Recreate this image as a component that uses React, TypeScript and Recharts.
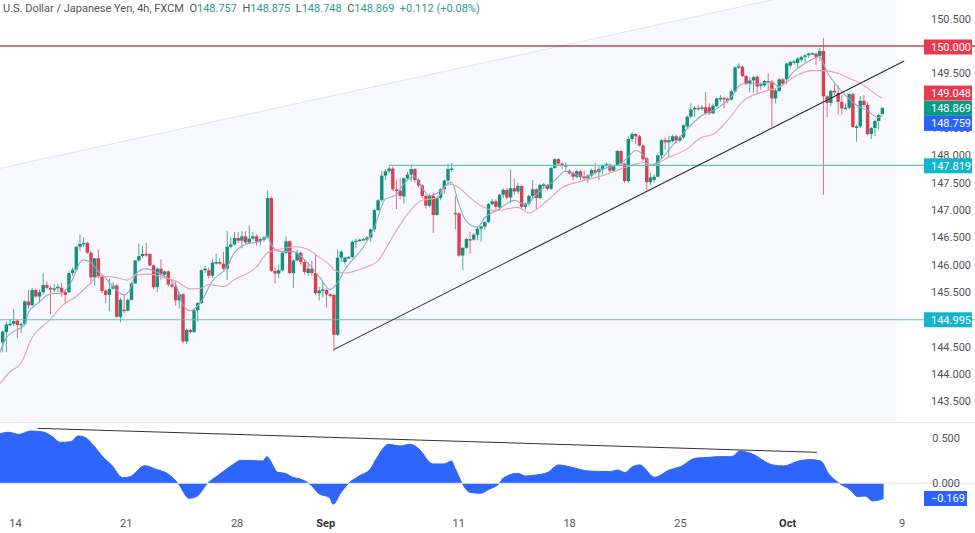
import { Area, Bar, ComposedChart, Line, ReferenceDot, ReferenceLine, XAxis, YAxis } from "recharts";

// [open, high, low, close] per 4h bar
const candles: number[][] = [
  [144.58,144.8,144.4,144.78],[144.77,144.96,144.4,144.91],[144.91,145.0,144.88,144.92],[144.92,145.19,144.88,144.97],
  [144.98,145.0,144.66,144.9],[144.9,144.95,144.75,144.92],[144.92,145.35,144.9,145.33],[145.33,145.55,145.2,145.26],
  [145.26,145.58,145.25,145.54],[145.54,145.56,145.4,145.42],[145.42,145.55,145.3,145.5],[145.5,145.85,145.45,145.63],
  [145.63,145.7,145.55,145.58],[145.58,145.62,145.1,145.55],[145.56,145.65,145.5,145.57],[145.57,145.65,145.5,145.6],
  [145.58,145.67,145.42,145.5],[145.5,145.55,145.3,145.45],[145.5,145.88,145.48,145.85],[145.85,145.95,145.8,145.91],
  [145.91,146.33,145.9,146.33],[146.33,146.55,146.25,146.38],[146.38,146.5,146.33,146.4],[146.4,146.42,146.2,146.22],
  [146.22,146.25,145.65,145.77],[145.77,146.12,145.62,146.12],[146.12,146.28,145.75,145.79],[145.8,145.8,145.48,145.52],
  [145.53,145.55,145.3,145.45],[145.45,145.75,145.15,145.56],[145.56,145.68,145.55,145.62],[145.62,145.65,145.03,145.05],
  [145.05,145.4,144.95,145.36],[145.18,145.45,145.12,145.16],[145.16,145.38,145.15,145.36],[145.36,145.68,145.35,145.66],
  [145.66,146.08,145.65,146.08],[146.08,146.39,146.05,146.16],[146.16,146.35,146.12,146.2],[146.2,146.4,146.15,146.19],
  [146.2,146.2,145.97,145.99],[145.99,146.0,145.55,145.59],[145.59,145.95,145.5,145.93],[145.93,146.1,145.72,145.82],
  [145.82,145.9,145.75,145.88],[145.88,145.9,145.6,145.64],[145.64,145.72,145.57,145.6],[145.6,145.7,145.25,145.35],
  [145.35,145.5,145.2,145.46],[145.46,145.48,144.57,144.6],[144.6,144.83,144.55,144.81],[144.81,144.83,144.74,144.77],
  [144.77,145.18,144.76,145.17],[145.17,145.32,144.96,145.3],[145.3,145.92,145.28,145.9],[145.9,145.98,145.85,145.93],
  [145.9,145.95,145.75,145.8],[145.8,146.1,145.76,146.04],[146.04,146.2,146.0,146.05],[146.05,146.12,146.0,146.02],
  [146.02,146.24,145.9,145.93],[145.93,146.62,145.72,146.33],[146.33,146.5,146.3,146.37],[146.37,146.6,146.35,146.49],
  [146.49,146.6,146.4,146.44],[146.44,146.62,146.3,146.52],[146.52,146.62,146.38,146.41],[146.41,146.72,146.38,146.48],
  [146.48,146.6,146.45,146.52],[146.52,146.56,146.35,146.43],[146.43,146.5,146.35,146.47],[146.46,146.53,146.42,146.5],
  [146.5,147.36,146.48,147.22],[147.22,147.25,145.87,145.89],[145.89,145.95,145.66,145.84],[145.84,146.0,145.75,145.9],
  [145.9,146.24,145.88,146.22],[146.22,146.52,146.2,146.43],[146.43,146.45,145.83,145.85],[145.85,146.1,145.58,146.08],
  [146.08,146.28,146.06,146.22],[146.22,146.24,146.0,146.05],[146.05,146.1,145.82,145.87],[145.85,146.05,145.8,145.93],
  [145.93,146.07,145.8,145.85],[145.85,146.2,145.45,145.48],[145.48,145.6,145.35,145.53],[145.53,145.7,145.4,145.55],
  [145.54,145.57,145.22,145.46],[145.46,145.48,145.4,145.44],[145.45,145.47,144.42,144.72],[144.72,146.28,144.7,146.13],
  [146.13,146.26,146.05,146.24],[146.05,146.15,146.0,146.13],[146.13,146.16,146.12,146.14],[146.14,146.44,146.12,146.42],
  [146.42,146.48,146.3,146.44],[146.44,146.48,146.42,146.46],[146.46,146.49,146.44,146.47],[146.46,146.52,146.44,146.5],
  [146.5,146.66,146.42,146.65],[146.65,147.02,146.6,147.0],[147.0,147.2,146.98,147.18],[147.18,147.72,147.15,147.63],
  [147.63,147.75,147.55,147.71],[147.71,147.8,147.68,147.76],[147.76,147.8,147.35,147.38],[147.38,147.55,147.02,147.35],
  [147.36,147.58,147.2,147.26],[147.25,147.6,147.12,147.58],[147.58,147.7,147.55,147.65],[147.65,147.83,147.52,147.75],
  [147.75,147.77,147.5,147.55],[147.55,147.58,147.42,147.45],[147.45,147.47,147.22,147.26],[147.26,147.28,147.03,147.08],
  [147.08,147.3,147.05,147.26],[147.26,147.32,146.58,146.91],[146.91,147.25,146.9,147.22],[147.22,147.4,147.18,147.38],
  [147.38,147.56,147.3,147.54],[147.54,147.85,147.45,147.75],[147.75,147.86,147.7,147.76],[146.95,147.26,146.65,146.94],
  [146.94,146.96,146.15,146.17],[146.17,146.33,145.9,146.31],[146.31,146.5,146.29,146.47],[146.47,146.6,146.2,146.46],
  [146.46,146.58,146.44,146.55],[146.55,146.7,146.45,146.66],[146.66,146.72,146.42,146.7],[146.7,146.8,146.65,146.78],
  [146.78,147.13,146.77,147.11],[147.11,147.2,147.08,147.16],[147.16,147.2,146.98,147.06],[147.05,147.3,147.0,147.28],
  [147.28,147.4,147.22,147.37],[147.37,147.4,147.2,147.23],[147.23,147.74,147.13,147.4],[147.4,147.58,147.28,147.34],
  [147.34,147.5,147.3,147.44],[147.44,147.46,147.03,147.06],[147.06,147.14,147.0,147.12],[147.12,147.28,147.08,147.26],
  [147.26,147.55,147.22,147.38],[147.38,147.4,147.01,147.22],[147.22,147.48,147.2,147.46],[147.46,147.5,147.4,147.47],
  [147.46,147.48,147.36,147.39],[147.39,147.79,147.37,147.77],[147.77,147.95,147.75,147.93],[147.93,147.95,147.8,147.85],
  [147.85,147.87,147.75,147.81],[147.8,147.87,147.7,147.82],[147.72,147.75,147.65,147.67],[147.67,147.7,147.55,147.61],
  [147.61,147.74,147.58,147.71],[147.71,147.74,147.55,147.6],[147.61,147.72,147.55,147.6],[147.58,147.66,147.5,147.63],
  [147.63,147.75,147.6,147.73],[147.73,147.87,147.65,147.68],[147.69,147.8,147.55,147.75],[147.74,147.83,147.65,147.81],
  [147.81,147.88,147.78,147.84],[147.83,147.85,147.68,147.72],[147.72,147.83,147.7,147.81],[147.81,148.1,147.8,148.08],
  [148.08,148.1,147.83,147.85],[147.85,147.87,147.5,147.53],[147.53,148.36,147.5,148.3],[148.3,148.43,148.25,148.39],
  [148.39,148.41,148.2,148.35],[148.35,148.38,148.16,148.18],[148.18,148.2,147.9,147.93],[147.95,147.97,147.36,147.51],
  [147.51,147.68,147.46,147.6],[147.55,147.65,147.5,147.61],[147.61,148.02,147.6,148.0],[148.0,148.3,147.95,148.28],
  [148.28,148.33,148.1,148.24],[148.24,148.36,147.97,148.28],[148.26,148.38,148.24,148.35],[148.35,148.38,148.22,148.27],
  [148.27,148.36,148.24,148.33],[148.33,148.57,148.3,148.55],[148.53,148.73,148.5,148.71],[148.71,148.95,148.68,148.84],
  [148.84,148.9,148.7,148.87],[148.87,148.92,148.82,148.86],[148.86,148.92,148.82,148.88],[148.88,149.16,148.74,148.77],
  [148.88,148.95,148.74,148.77],[148.77,148.95,148.75,148.91],[148.9,149.06,148.88,149.04],[149.04,149.1,148.98,149.05],
  [149.05,149.08,148.86,149.04],[149.04,149.06,148.95,149.0],[149.02,149.2,149.0,149.17],[149.17,149.62,149.15,149.61],
  [149.61,149.68,149.58,149.63],[149.62,149.64,149.43,149.45],[149.45,149.47,149.29,149.31],[149.31,149.43,149.16,149.37],
  [149.37,149.45,149.15,149.43],[149.44,149.46,149.14,149.26],[149.27,149.33,149.2,149.3],[149.28,149.38,149.25,149.36],
  [149.36,149.5,149.2,149.35],[149.35,149.38,148.52,149.04],[149.04,149.21,148.95,149.19],[149.18,149.41,149.16,149.39],
  [149.39,149.41,149.29,149.31],[149.39,149.7,149.3,149.68],[149.64,149.73,149.6,149.71],[149.71,149.75,149.66,149.72],
  [149.69,149.8,149.6,149.77],[149.75,149.82,149.7,149.8],[149.8,149.85,149.7,149.83],[149.83,149.88,149.78,149.86],
  [149.86,149.88,149.84,149.87],[149.86,149.88,149.65,149.8],[149.82,149.97,149.72,149.91],[149.91,150.15,147.28,149.08],
  [149.08,149.1,148.7,148.96],[148.96,149.2,148.9,149.18],[149.18,149.3,149.1,149.17],[149.14,149.28,148.75,148.98],
  [148.98,149.1,148.75,148.86],[148.86,148.95,148.85,148.87],[148.87,149.14,148.84,149.12],[149.12,149.14,148.5,148.52],
  [148.52,148.56,148.25,148.53],[148.53,149.08,148.5,149.0],[149.0,149.1,148.88,148.92],[148.92,148.98,148.37,148.39],
  [148.39,148.52,148.3,148.5],[148.5,148.65,148.35,148.63],[148.63,148.77,148.48,148.74],[148.757,148.875,148.748,148.869],
];

// moving averages, read at [bar, value]
const fastMa: number[][] = [
  [-1,144.35],[1,144.66],[3,144.78],[6,144.9],[7,145.12],[10,145.32],[13,145.47],[16,145.48],[19,145.73],[21,146.04],[22,146.09],
  [24,146.04],[26,145.88],[28,145.76],[30,145.6],[33,145.45],[35,145.6],[36,145.82],[39,145.93],[41,145.89],[44,145.79],[47,145.64],
  [49,145.27],[51,145.16],[54,145.33],[57,145.7],[61,145.96],[63,146.22],[66,146.37],[70,146.43],[72,146.53],[73,146.37],[75,146.25],
  [79,146.24],[82,146.1],[86,145.79],[89,145.55],[91,145.67],[93,145.91],[98,146.32],[101,146.68],[104,147.2],[107,147.28],[109,147.48],
  [112,147.61],[114,147.41],[116,147.26],[119,147.35],[122,147.51],[124,147.11],[126,146.8],[129,146.69],[131,146.86],[135,147.02],
  [139,147.18],[142,147.1],[146,147.35],[150,147.54],[153,147.71],[158,147.61],[163,147.75],[168,147.85],[170,147.97],[172,148.09],
  [175,147.93],[176,147.82],[178,147.87],[182,148.18],[187,148.55],[190,148.73],[194,148.85],[198,149.07],[201,149.31],[205,149.31],
  [209,149.34],[211,149.25],[215,149.53],[218,149.68],[222,149.8],[224,149.53],[227,149.25],[229,149.1],[232,148.92],[235,148.82],
  [238,148.69],[239,148.73],
];
const slowMa: number[][] = [
  [-1,143.8],[2,144.04],[5,144.2],[8,144.66],[13,145.0],[16,145.24],[20,145.42],[24,145.67],[26,145.79],[30,145.78],[34,145.72],
  [36,145.81],[40,145.83],[44,145.76],[47,145.71],[51,145.56],[54,145.57],[56,145.64],[60,145.6],[63,145.73],[69,145.96],[72,146.22],
  [75,146.28],[80,146.33],[83,146.28],[86,146.14],[89,145.99],[90,145.91],[93,145.85],[98,145.94],[102,146.07],[105,146.4],[109,146.83],
  [112,147.08],[114,147.18],[118,147.22],[121,147.48],[124,147.41],[127,147.23],[130,147.08],[134,146.99],[140,147.05],[143,146.95],
  [148,147.17],[152,147.41],[158,147.54],[163,147.63],[168,147.75],[172,147.84],[174,147.87],[177,147.82],[180,147.93],[186,148.12],
  [190,148.33],[193,148.38],[197,148.64],[201,148.98],[207,149.17],[211,149.25],[216,149.47],[220,149.55],[223,149.55],[227,149.5],
  [230,149.41],[234,149.28],[237,149.13],[239,149.048],
];
// lower panel oscillator
const oscillator: number[][] = [
  [-1,0.54],[2,0.567],[5,0.544],[8,0.581],[11,0.574],[14,0.519],[16,0.456],[19,0.463],[21,0.526],[23,0.507],[25,0.426],[28,0.278],
  [30,0.204],[33,0.063],[35,0.074],[39,0.196],[42,0.156],[45,0.111],[48,0],[51,-0.167],[53,-0.148],[56,0],[59,0.093],[63,0.211],
  [65,0.256],[71,0.248],[72,0.296],[75,0.122],[77,0.111],[79,0.067],[81,0.048],[84,-0.019],[86,-0.111],[89,-0.159],[90,-0.233],
  [92,-0.111],[94,-0.007],[97,0.081],[100,0.156],[102,0.296],[105,0.433],[108,0.415],[111,0.433],[113,0.389],[117,0.215],[120,0.215],
  [122,0.248],[123,0.167],[125,-0.007],[127,-0.1],[130,-0.111],[132,-0.07],[135,0],[136,0.056],[140,0.111],[142,0.081],[145,0.093],
  [148,0.119],[151,0.204],[155,0.174],[159,0.137],[165,0.13],[167,0.148],[169,0.119],[171,0.185],[173,0.204],[177,0.067],[181,0.148],
  [184,0.185],[188,0.278],[192,0.289],[194,0.296],[198,0.296],[200,0.359],[203,0.333],[209,0.204],[212,0.193],[216,0.248],[219,0.263],
  [222,0.248],[224,0.111],[227,0],[230,-0.074],[232,-0.148],[234,-0.141],[236,-0.196],[239,-0.169],
];
const channelTop: number[][] = [[-1,147.76],[243,151.34]];

// 145, 149 and 150 sit fully behind the price tags
const priceTicks = [143.5,144,144.5,145.5,146,146.5,147,147.5,148,148.5,149.5,150.5];
const oscTicks = [0,0.5];
const dateTicks: [number, string][] = [[4,"14"],[34,"21"],[64,"28"],[88,"Sep"],[124,"11"],[154,"18"],[184,"25"],[213,"Oct"],[244,"9"]];
const priceDomain = [143.126, 150.841];

const lastRow = 264;
const FONT = "Roboto, sans-serif";
const UP = "#11917c";
const DOWN = "#da3f4e";

const rows: any[] = [];
for (let i = -1; i <= lastRow; i++) {
  const c = candles[i];
  rows.push(c ? { i, o: c[0], h: c[1], l: c[2], c: c[3], range: [c[2], c[1]] } : { i });
}
const fill = (key: string, pairs: number[][]) => {
  pairs.forEach(([r, v]) => { rows[r + 1][key] = v; });
};
fill("fast", fastMa);
fill("slow", slowMa);
fill("osc", oscillator);
fill("channel", channelTop);

function Candle(props: any) {
  const { x, y, width, height, payload } = props;
  if (payload.h == null) return null;
  const top = Math.min(y, y + height);
  const span = Math.abs(height);
  const unit = span / (payload.h - payload.l);
  const yOpen = top + (payload.h - payload.o) * unit;
  const yClose = top + (payload.h - payload.c) * unit;
  const color = payload.c >= payload.o ? UP : DOWN;
  const cx = x + width / 2;
  return (
    <g>
      <line x1={cx} x2={cx} y1={top} y2={top + span} stroke={color} strokeOpacity={0.75} />
      <rect x={cx - 1.7} width={3.4} y={Math.min(yOpen, yClose)} height={Math.max(Math.abs(yClose - yOpen), 1.5)} fill={color} />
    </g>
  );
}

function tag(text: string, color: string, shift = 0, right = 975) {
  return (props: any) => (
    <g>
      <rect x={927} width={right - 927} y={props.cy + shift - 7.5} height={15} fill={color} />
      <text x={934} y={props.cy + shift + 4} fill="#fff" fontSize={11} fontFamily={FONT}>{text}</text>
    </g>
  );
}

function DateTick(props: any) {
  const { x, y, payload } = props;
  const hit = dateTicks.find((d) => d[0] === payload.value);
  const label = hit ? hit[1] : "";
  const bold = label === "Sep" || label === "Oct";
  return (
    <text x={x} y={y + 9} textAnchor="middle" fontSize={11} fontFamily={FONT} fontWeight={bold ? 700 : 400} fill={bold ? "#333" : "#555"}>
      {label}
    </text>
  );
}

const valueStyle = { color: "#2a9d8a" };

export default function App() {
  return (
    <div style={{ position: "absolute", left: 0, top: 0, width: 975, height: 533, overflow: "hidden", background: "#fff" }}>
      <div style={{ position: "absolute", left: 3, top: 2, fontFamily: FONT, fontSize: 11, color: "#555", whiteSpace: "pre", zIndex: 2 }}>
        U.S. Dollar / Japanese Yen, 4h, FXCM{"  "}O<span style={valueStyle}>148.757</span>{"  "}H<span style={valueStyle}>148.875</span>{"  "}L
        <span style={valueStyle}>148.748</span>{"  "}C<span style={valueStyle}>148.869</span>{"  "}<span style={valueStyle}>+0.112 (+0.08%)</span>
      </div>

      <div style={{ position: "absolute", left: -3, top: 0 }}>
        <ComposedChart width={979} height={422} data={rows} barCategoryGap={0} margin={{ top: 0, right: 0, bottom: 0, left: 0 }}>
          <XAxis dataKey="i" hide />
          <YAxis
            orientation="right"
            mirror
            width={1}
            domain={priceDomain}
            allowDataOverflow
            ticks={priceTicks}
            interval={0}
            tickFormatter={(v: number) => v.toFixed(3)}
            tick={{ fontSize: 11, fontFamily: FONT, fill: "#555" }}
            tickLine={false}
            axisLine={false}
            tickSize={0}
            tickMargin={5}
          />
          <Area dataKey="channel" connectNulls type="linear" stroke="#e1e4ee" strokeWidth={1} fill="#f8f9fe" fillOpacity={1} dot={false} activeDot={false} isAnimationActive={false} />
          <Bar dataKey="range" shape={Candle} isAnimationActive={false} />
          <Line dataKey="fast" connectNulls type="monotone" stroke="#8ea7d8" strokeWidth={1.1} dot={false} activeDot={false} isAnimationActive={false} />
          <Line dataKey="slow" connectNulls type="monotone" stroke="#e3a4ad" strokeWidth={1.1} dot={false} activeDot={false} isAnimationActive={false} />
          <ReferenceLine y={150} stroke="#bd4450" strokeWidth={1.5} />
          <ReferenceLine y={144.995} stroke="#5cc3bf" strokeWidth={1.2} />
          <ReferenceLine segment={[{ x: 105, y: 147.819 }, { x: 252, y: 147.819 }]} stroke="#5cc3bf" strokeWidth={1.2} />
          <ReferenceLine segment={[{ x: 90, y: 144.449 }, { x: 245, y: 149.724 }]} stroke="#2b2b2b" strokeWidth={1.1} />
        </ComposedChart>
      </div>

      {/* tags in their own layer so they cover the axis labels */}
      <div style={{ position: "absolute", left: -3, top: 0 }}>
        <ComposedChart width={979} height={422} data={rows} margin={{ top: 0, right: 0, bottom: 0, left: 0 }}>
          <XAxis dataKey="i" hide />
          <YAxis hide domain={priceDomain} allowDataOverflow />
          <ReferenceDot x={lastRow} y={150} ifOverflow="visible" shape={tag("150.000", "#e8394e", 1)} />
          <ReferenceDot x={lastRow} y={149.048} ifOverflow="visible" shape={tag("149.048", "#e8394e", -5)} />
          <ReferenceDot x={lastRow} y={148.869} ifOverflow="visible" shape={tag("148.869", "#0b9a82", 0.5)} />
          <ReferenceDot x={lastRow} y={148.759} ifOverflow="visible" shape={tag("148.759", "#2962ff", 9.5)} />
          <ReferenceDot x={lastRow} y={147.819} ifOverflow="visible" shape={tag("147.819", "#11b6cc", 0.5)} />
          <ReferenceDot x={lastRow} y={144.995} ifOverflow="visible" shape={tag("144.995", "#11b6cc")} />
        </ComposedChart>
      </div>

      <div style={{ position: "absolute", left: 0, top: 422, width: 975, height: 1, background: "#e6e8f0" }} />

      <div style={{ position: "absolute", left: -3, top: 424 }}>
        <ComposedChart width={979} height={109} data={rows} margin={{ top: 0, right: 0, bottom: 0, left: 0 }}>
          <XAxis dataKey="i" height={23} ticks={dateTicks.map((d) => d[0])} interval={0} tick={DateTick} tickLine={false} axisLine={false} />
          <YAxis
            orientation="right"
            mirror
            width={1}
            domain={[-0.297, 0.659]}
            allowDataOverflow
            ticks={oscTicks}
            interval={0}
            tickFormatter={(v: number) => v.toFixed(3)}
            tick={{ fontSize: 11, fontFamily: FONT, fill: "#555" }}
            tickLine={false}
            axisLine={false}
            tickSize={0}
            tickMargin={16}
          />
          <Area dataKey="osc" baseValue={0} connectNulls type="monotone" stroke="#2e66fb" strokeWidth={1} fill="#2e66fb" fillOpacity={1} dot={false} activeDot={false} isAnimationActive={false} />
          <ReferenceLine y={0} stroke="#dbe5ff" strokeWidth={1} segment={[{ x: -1, y: 0 }, { x: 239, y: 0 }]} />
          <ReferenceLine segment={[{ x: 10, y: 0.611 }, { x: 221, y: 0.344 }]} stroke="#333" strokeWidth={1} />
          <ReferenceDot x={lastRow} y={-0.169} ifOverflow="visible" shape={tag("\u22120.169", "#2962ff", 0, 970)} />
        </ComposedChart>
      </div>
    </div>
  );
}
